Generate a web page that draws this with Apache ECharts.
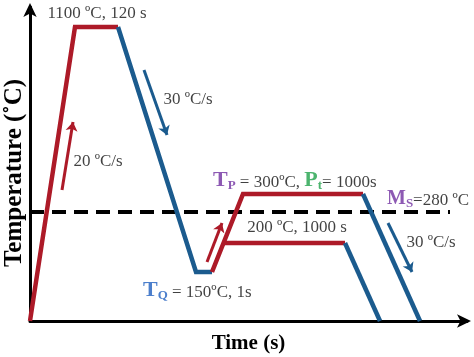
<!DOCTYPE html>
<html><head><meta charset="utf-8">
<script src="https://cdn.jsdelivr.net/npm/echarts@6/dist/echarts.min.js"></script>
<style>html,body{margin:0;padding:0;background:#fff}#c{width:474px;height:357px}</style>
</head><body><div id="c"></div>
<script>
// Schematic units: time (arbitrary) vs temperature level (arbitrary, schematic)
var austenitize = [[0,0],[45,294],[88,294]];            // heat 20 ºC/s, hold 1100 ºC 120 s
var quench = [[88,294],[166,49],[182,49]];               // cool 30 ºC/s to TQ, hold 1 s
var partition300 = [[182,49],[213,127],[333,127]];       // reheat to TP=300 ºC, hold 1000 s
var partition200 = [[194,78],[315,78]];                  // branch to 200 ºC, hold 1000 s
var finalCool200 = [[315,78],[350,0]];
var finalCool300 = [[333,127],[390,0]];
var msLine = [[0,109],[420,109]];                        // Ms = 280 ºC
var RED = '#ad1a28', BLUE = '#1b5b8e';
var arrows = [
  {c:RED, pts:[[32,131],[43,199]]},
  {c:BLUE, pts:[[114,251],[137,186]]},
  {c:RED, pts:[[177,59],[192,98]]},
  {c:BLUE, pts:[[358,98],[382,49]]}
];
var FONT = '"Liberation Serif","Times New Roman",serif';

var notes = [
  {pos:[67,307], align:'center', text:'1100 ºC, 120 s'},
  {pos:[158,221], align:'center', text:'30 ºC/s'},
  {pos:[68,159], align:'center', text:'20 ºC/s'},
  {pos:[183,141], align:'left', text:'{tp|T}{tps|P}{n| = 300ºC, }{pt|P}{pts|t}{n|= 1000s}'},
  {pos:[357,123], align:'left', text:'{ms|M}{tps|S}{n|=280 ºC}'},
  {pos:[267,93], align:'center', text:'200 ºC, 1000 s'},
  {pos:[401,78], align:'center', text:'30 ºC/s'},
  {pos:[113,31], align:'left', text:'{tq|T}{tqs|Q}{n| = 150ºC, 1s}'}
];

function seg(data, color, extra){
  return Object.assign({type:'line', data:data, symbol:'none', silent:true,
    lineStyle:{color:color, width:4.5, cap:'butt', join:'miter'}, z:3}, extra||{});
}
function big(c, s){ return {fontFamily:FONT, fontSize:s||22, fontWeight:'bold', color:c, lineHeight:22, verticalAlign:'bottom'}; }
function sub(c){ return {fontFamily:FONT, fontSize:13, fontWeight:'bold', color:c, lineHeight:12, verticalAlign:'top', padding:[10,0,0,0]}; }
var rich = {
  n:{fontFamily:FONT, fontSize:17, color:'#111', lineHeight:22, verticalAlign:'bottom'},
  tp:big('#7030a0'), tps:sub('#7030a0'), ms:big('#7030a0', 20),
  pt:big('#1fa14a'), pts:sub('#1fa14a'),
  tq:big('#1f5fbf'), tqs:sub('#1f5fbf')
};

var series = [
  seg(austenitize, RED),
  seg(quench, BLUE),
  seg(partition300, RED),
  seg(partition200, RED),
  seg(finalCool200, BLUE),
  seg(finalCool300, BLUE),
  seg(msLine, '#000', {lineStyle:{color:'#000', width:4, type:[14,8]}, z:2}),
  {type:'lines', coordinateSystem:'cartesian2d', silent:true, z:4,
   symbol:['none','arrow'], symbolSize:[0,9],
   data: arrows.map(function(a){return {coords:a.pts, lineStyle:{color:a.c, width:3}};}),
   lineStyle:{width:3, opacity:1, curveness:0}},
  {type:'scatter', silent:true, symbolSize:0, z:5,
   data: notes.map(function(n){return {value:n.pos, label:{show:true, position:'inside', align:n.align,
     verticalAlign:'middle', formatter:n.text, rich:rich, fontFamily:FONT, fontSize:17, color:'#111'}};})}
];

var chart = echarts.init(document.getElementById('c'), null, {renderer:'canvas'});
chart.setOption({
  animation:false,
  backgroundColor:'#fff',
  grid:{left:30, right:7, top:7, bottom:36, containLabel:false, outerBoundsMode:'none'},
  xAxis:{type:'value', min:0, max:437, name:'Time (s)', nameLocation:'middle', nameGap:12,
    nameTextStyle:{fontFamily:FONT, fontSize:21, fontWeight:'bold', color:'#000'},
    axisLine:{show:true, onZero:false, symbol:['none','arrow'], symbolSize:[10,14], symbolOffset:[0,4],
      lineStyle:{color:'#000', width:3}},
    axisTick:{show:false}, axisLabel:{show:false}, splitLine:{show:false}},
  yAxis:{type:'value', min:0, max:314, name:'Temperature (˚C)', nameLocation:'middle', nameGap:3, nameRotate:90,
    nameTextStyle:{fontFamily:FONT, fontSize:25, fontWeight:'bold', color:'#000', padding:[0,0,0,-18]},
    axisLine:{show:true, onZero:false, symbol:['none','arrow'], symbolSize:[10,14], symbolOffset:[0,4],
      lineStyle:{color:'#000', width:3}},
    axisTick:{show:false}, axisLabel:{show:false}, splitLine:{show:false}},
  series:series
});
</script></body></html>
